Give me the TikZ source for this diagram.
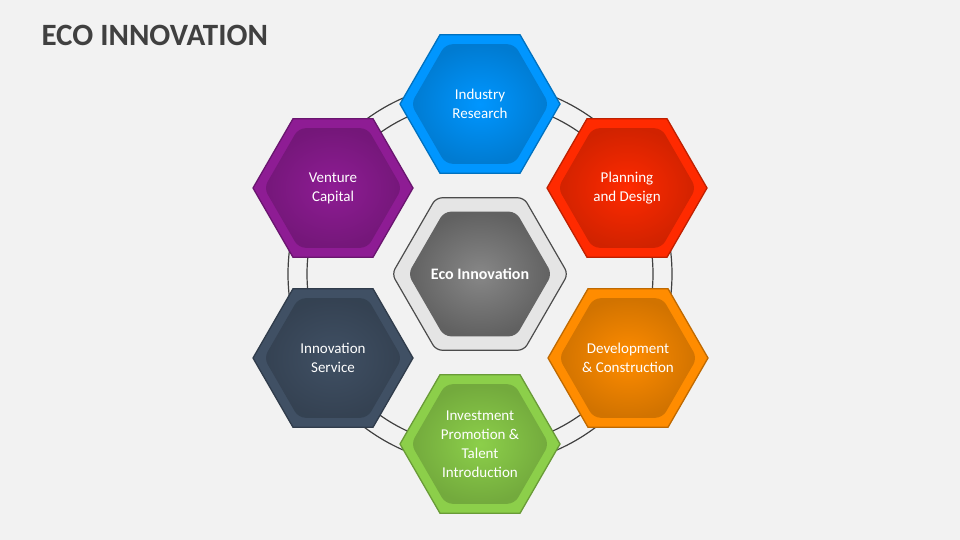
\documentclass[tikz,border=0pt]{standalone}
\usepackage{fontspec}
\setmainfont{Carlito}
\usetikzlibrary{shapes.geometric}
\definecolor{bg}{HTML}{F2F2F2}
\definecolor{ttl}{HTML}{404040}
\definecolor{cblue}{HTML}{0096FF}
\definecolor{cred}{HTML}{FF2A00}
\definecolor{corange}{HTML}{FF8C00}
\definecolor{cgreen}{HTML}{8CCF4A}
\definecolor{cslate}{HTML}{405064}
\definecolor{cpurple}{HTML}{8E1C94}
\tikzset{
  hexo/.style={regular polygon, regular polygon sides=6, minimum size=160pt, inner sep=0pt, line width=1.3pt, draw=#1!75!black, fill=#1},
  hexi/.style={regular polygon, regular polygon sides=6, minimum size=138pt, inner sep=0pt, rounded corners=7pt, inner color=#1, outer color=#1!82!black},
  lbl/.style={text=white, align=center, font=\fontsize{15}{19}\selectfont},
  ring/.style={draw=black!75, line width=1.2pt}
}
\begin{document}
\begin{tikzpicture}[x=1pt,y=-1pt]
\fill[bg] (0,0) rectangle (960,540);
\useasboundingbox (0,0) rectangle (960,540);
\node[anchor=base west, text=ttl, font=\fontsize{31}{36}\selectfont\bfseries] (title) at (38,46) {ECO INNOVATION};
\coordinate (c) at (480,274);
\draw[ring] (c) circle[radius=173];
\draw[ring] (c) circle[radius=192];
% center
\node[regular polygon, regular polygon sides=6, minimum size=176pt, inner sep=0pt, rounded corners=6pt, draw=black!70, line width=1.2pt, fill=black!10] (co) at (c) {};
\node[regular polygon, regular polygon sides=6, minimum size=144pt, inner sep=0pt, rounded corners=7pt, inner color=black!47, outer color=black!62] (ci) at (c) {};
\node[lbl, font=\fontsize{16}{19}\selectfont\bfseries] (ct) at (c) {Eco Innovation};
% outer
\foreach \n/\x/\y/\col/\t in {
  ir/480/104/cblue/{Industry\\Research},
  pd/627/188/cred/{Planning\\and Design},
  dc/628/358/corange/{Development\\\& Construction},
  ip/480/444/cgreen/{Investment\\Promotion \&\\Talent\\Introduction},
  is/333/358/cslate/{Innovation\\Service},
  vc/333/188/cpurple/{Venture\\Capital}}{
  \node[hexo=\col] (\n o) at (\x,\y) {};
  \node[hexi=\col] (\n i) at (\x,\y) {};
  \node[lbl] (\n t) at (\x,\y) {\t};
}
\end{tikzpicture}
\end{document}
